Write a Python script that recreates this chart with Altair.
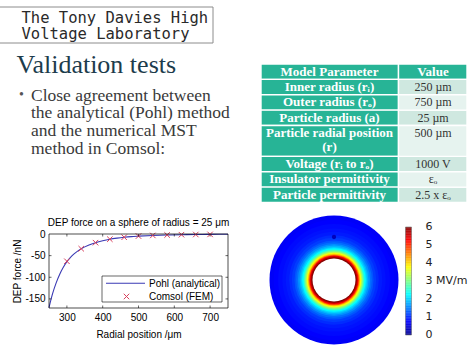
import altair as alt
import pandas as pd

# ---------------- data ----------------
# DEP force curve (Pohl, analytical) and Comsol points
r_pohl = [250, 260, 270, 280, 290, 300, 310, 320, 330, 340, 360, 380, 400, 420, 440,
          460, 480, 500, 540, 580, 620, 660, 700, 750]
f_pohl = [-170, -138, -113, -93, -77, -64, -54, -46, -39.5, -34, -26, -20, -15.5, -12,
          -9.5, -7.5, -6, -5, -3.4, -2.4, -1.7, -1.2, -0.9, -0.6]
r_comsol = [300, 340, 380, 420, 460, 500, 540, 580, 620, 660, 700]
f_comsol = [-63, -34, -20, -12, -7.5, -4.8, -3.3, -2.3, -1.6, -1.2, -0.9]
series_names = ["Pohl (analytical)", "Comsol (FEM)"]
x_ticks = [300, 400, 500, 600, 700]
y_ticks = [-150, -100, -50, 0]
plot_title = "DEP force on a sphere of radius = 25 \u03bcm"
x_title = "Radial position /\u03bcm"
y_title = "DEP force /nN"

# parameter table
table_header = ["Model Parameter", "Value"]
param_names = ["Inner radius (r\u1d62)", "Outer radius (r\u2092)", "Particle radius (a)",
               "Particle radial position\n(r)", "Voltage (r\u1d62 to r\u2092)",
               "Insulator permittivity", "Particle permittivity"]
param_values = ["250 \u00b5m", "750 \u00b5m", "25 \u00b5m", "500 \u00b5m", "1000 V",
                "\u03b5\u2092", "2.5 x \u03b5\u2092"]
row_lines = [1, 1, 1, 2, 1, 1, 1]

# field magnitude map (MV/m) vs radius (um)
ring_r_um = [750, 700, 650, 600, 560, 520, 490, 460, 440, 420, 400, 385, 370, 355,
             345, 335, 325, 315, 305, 295, 285, 275, 265, 255]
ring_field = [0.7, 0.75, 0.8, 0.85, 0.9, 1.0, 1.1, 1.25, 1.4, 1.6, 1.8, 2.0, 2.25, 2.5,
              2.8, 3.1, 3.4, 3.75, 4.1, 4.6, 5.2, 5.6, 5.9, 6.0]
inner_radius_um = 250
outer_radius_um = 750
particle_pos_um = 500
particle_radius_um = 25
particle_field = 0.3
cbar_ticks = [0, 1, 2, 3, 4, 5, 6]
cbar_unit = "MV/m"

header_lines = ["The Tony Davies High", "Voltage Laboratory"]
slide_title = "Validation tests"
bullet_lines = ["Close agreement between", "the analytical (Pohl) method",
                "and the numerical MST", "method in Comsol:"]

# ---------------- styles / layout ----------------
SANS = "Liberation Sans"
SERIF = "Liberation Serif"
TEAL = "#27b496"
BLUE = "#3a3ab4"
RED = "#d8405c"
PX0, PX1, PY0, PY1 = 49, 228, 308, 234  # plot box
CX, CY, RPX = 334, 280, 64.5            # disc
CB_X0, CB_X1, CB_Y0, CB_Y1 = 405.5, 411.5, 335, 227  # colour bar

# ---------------- DEP plot ----------------
xs = alt.Scale(domain=[250, 750], range=[PX0, PX1], nice=False, zero=False)
ys = alt.Scale(domain=[-171, 0], range=[PY0, PY1], nice=False, zero=False)
xaxis = alt.Axis(orient="bottom", offset=PY0 - 355, values=x_ticks, domain=False, ticks=False,
                 grid=False, labelFont=SANS, labelFontSize=10, labelColor="black",
                 labelPadding=4, title=x_title, titleFont=SANS, titleFontSize=10,
                 titleFontWeight="normal", titleColor="black", titlePadding=7, zindex=1)
yaxis = alt.Axis(orient="left", offset=-PX0, values=y_ticks, domain=False, ticks=False,
                 grid=False, labelFont=SANS, labelFontSize=10, labelColor="black",
                 labelPadding=4, labelExpr="'' + datum.value", title=y_title, titleFont=SANS,
                 titleFontSize=10, titleFontWeight="normal", titleColor="black",
                 titlePadding=2, zindex=1)
X = alt.X("r:Q", scale=xs, axis=xaxis)
Y = alt.Y("F:Q", scale=ys, axis=yaxis)

pohl_df = pd.DataFrame({"r": r_pohl, "F": f_pohl})
comsol_df = pd.DataFrame({"r": r_comsol, "F": f_comsol})
line = alt.Chart(pohl_df).mark_line(color=BLUE, strokeWidth=1.1, interpolate="monotone").encode(x=X, y=Y)
XSHAPE = "M-1,-1L1,1M-1,1L1,-1"
pts = alt.Chart(comsol_df).mark_point(shape=XSHAPE, size=30, color=RED, strokeWidth=1,
                                      filled=False, opacity=1).encode(x=X, y=Y)
xt_df = pd.DataFrame({"r": x_ticks})
yt_df = pd.DataFrame({"F": y_ticks[:-1]})
tick_style = dict(color="black", strokeWidth=0.6)
xtb = alt.Chart(xt_df).mark_rule(**tick_style).encode(x=X, y=alt.value(PY0), y2=alt.value(PY0 - 2.5))
xtt = alt.Chart(xt_df).mark_rule(**tick_style).encode(x=X, y=alt.value(PY1), y2=alt.value(PY1 + 2.5))
ytl = alt.Chart(yt_df).mark_rule(**tick_style).encode(y=Y, x=alt.value(PX0), x2=alt.value(PX0 + 2.5))
ytr = alt.Chart(yt_df).mark_rule(**tick_style).encode(y=Y, x=alt.value(PX1), x2=alt.value(PX1 - 2.5))
dep = alt.layer(line, pts, xtb, xtt, ytl, ytr)

# ---------------- table ----------------
units = [1] + row_lines
tops = [sum(units[:i]) for i in range(len(units))]
tab_df = pd.DataFrame({
    "idx": list(range(len(units))),
    "top": tops,
    "bot": [t + u for t, u in zip(tops, units)],
    "first": [t + 0.5 for t in tops],
    "name": [table_header[0]] + param_names,
    "val": [table_header[1]] + param_values,
})
tys = alt.Scale(domain=[0, sum(units)], range=[64, 202.5], nice=False, zero=False)
TY = alt.Y("top:Q", scale=tys, axis=None)
TY2 = alt.Y2("bot:Q")
TYF = alt.Y("first:Q", scale=tys, axis=None)
tbase = alt.Chart(tab_df)
cell = dict(stroke="white", strokeWidth=1.4)
left_cells = tbase.mark_rect(fill=TEAL, **cell).encode(
    x=alt.value(261), x2=alt.value(398.5), y=TY, y2=TY2)
right_hdr = tbase.transform_filter("datum.idx == 0").mark_rect(fill=TEAL, **cell).encode(
    x=alt.value(398.5), x2=alt.value(467), y=TY, y2=TY2)
right_odd = tbase.transform_filter("datum.idx > 0 && datum.idx % 2 == 1").mark_rect(
    fill="#cfe8e0", **cell).encode(x=alt.value(398.5), x2=alt.value(467), y=TY, y2=TY2)
right_even = tbase.transform_filter("datum.idx > 0 && datum.idx % 2 == 0").mark_rect(
    fill="#e6f3ef", **cell).encode(x=alt.value(398.5), x2=alt.value(467), y=TY, y2=TY2)
left_txt = tbase.mark_text(font=SERIF, fontSize=13, fontWeight="bold", color="white",
                           align="center", baseline="middle", lineBreak="\n", lineHeight=13.5).encode(
    x=alt.value(329.5), y=TYF, text="name:N")
right_hdr_txt = tbase.transform_filter("datum.idx == 0").mark_text(
    font=SERIF, fontSize=13, fontWeight="bold", color="white", align="center", baseline="middle").encode(
    x=alt.value(433), y=TYF, text="val:N")
right_txt = tbase.transform_filter("datum.idx > 0").mark_text(
    font=SERIF, fontSize=12, color="#333333", align="center", baseline="middle").encode(
    x=alt.value(433), y=TYF, text="val:N")
table = alt.layer(left_cells, right_hdr, right_odd, right_even, left_txt, right_hdr_txt, right_txt)

# ---------------- field disc + colour bar ----------------
rs = alt.Scale(type="linear", domain=[0, outer_radius_um], range=[0, RPX], zero=True)
cs = alt.Scale(domain=[0, 0.75, 2.25, 3.75, 5.25, 6],
               range=["#00008f", "#0000ff", "#00ffff", "#ffff00", "#ff0000", "#800000"],
               interpolate="rgb")
rings_df = pd.DataFrame({"r": ring_r_um, "E": ring_field}).sort_values("r", ascending=False)
R = alt.Radius("r:Q", scale=rs, stack=None)
rings = alt.Chart(rings_df).mark_arc(theta=0, theta2=6.2832).encode(
    x=alt.value(CX), y=alt.value(CY), radius=R,
    color=alt.Color("E:Q", scale=cs, legend=None))
hole = alt.Chart(pd.DataFrame({"r": [inner_radius_um]})).mark_arc(
    theta=0, theta2=6.2832, fill="white").encode(x=alt.value(CX), y=alt.value(CY), radius=R)
dot = alt.Chart(pd.DataFrame({"r": [particle_radius_um], "E": [particle_field]})).mark_arc(
    theta=0, theta2=6.2832).encode(
    x=alt.value(CX), y=alt.value(CY - particle_pos_um * RPX / outer_radius_um),
    radius=R, color=alt.Color("E:Q", scale=cs, legend=None))

cby = alt.Scale(domain=[min(cbar_ticks), max(cbar_ticks)], range=[CB_Y0, CB_Y1], nice=False, zero=False)
step = 0.04
cbar = alt.Chart(alt.sequence(min(cbar_ticks), max(cbar_ticks), step, as_="v")).transform_calculate(
    v2=f"min(datum.v + {step * 1.3}, {max(cbar_ticks)})"
).mark_rect().encode(
    x=alt.value(CB_X0), x2=alt.value(CB_X1),
    y=alt.Y("v:Q", scale=cby, axis=None), y2="v2:Q",
    color=alt.Color("v:Q", scale=cs, legend=None))
cbar_df = pd.DataFrame({"lo": [min(cbar_ticks)], "hi": [max(cbar_ticks)]})
cbar_border = alt.Chart(cbar_df).mark_rect(fillOpacity=0, stroke="#777777", strokeWidth=0.6).encode(
    x=alt.value(CB_X0), x2=alt.value(CB_X1),
    y=alt.Y("lo:Q", scale=cby, axis=None), y2="hi:Q")
cbar_lbl = alt.Chart(pd.DataFrame({"v": cbar_ticks})).transform_calculate(
    lbl=f"datum.v == 3 ? '3 {cbar_unit}' : '' + datum.v"
).mark_text(font="DejaVu Sans", fontSize=11, color="#222222", align="left", baseline="middle").encode(
    x=alt.value(425.5), y=alt.Y("v:Q", scale=cby, axis=None), text="lbl:N")
disc = alt.layer(rings, hole, dot, cbar, cbar_border, cbar_lbl)

# ---------------- decorations ----------------
one = pd.DataFrame({"a": [0]})


def txt(s, x, y, **kw):
    return alt.Chart(one).mark_text(text=s, **kw).encode(x=alt.value(x), y=alt.value(y))


deco = [
    alt.Chart(one).mark_rect(fillOpacity=0, stroke="#8c8c8c", strokeWidth=1).encode(
        x=alt.value(-2), x2=alt.value(213), y=alt.value(7), y2=alt.value(43)),
    txt(header_lines[0], 21.5, 17.5, font="DejaVu Sans Mono", fontSize=15.5, color="#2a2a2a",
        align="left", baseline="middle"),
    txt(header_lines[1], 21.5, 34, font="DejaVu Sans Mono", fontSize=15.5, color="#2a2a2a",
        align="left", baseline="middle"),
    txt(slide_title, 16.5, 72.5, font=SERIF, fontSize=26, color="#1c3c4c", align="left",
        baseline="alphabetic"),
    txt("\u2022", 21.5, 95, font=SERIF, fontSize=14, color="#555555", align="center", baseline="middle"),
]
for i, s in enumerate(bullet_lines):
    deco.append(txt(s, 31, 100.5 + i * 17.7, font=SERIF, fontSize=17.5, color="#3a3a3a",
                    align="left", baseline="alphabetic"))

frame = alt.Chart(one).mark_rect(fillOpacity=0, stroke="black", strokeWidth=0.7).encode(
    x=alt.value(PX0), x2=alt.value(PX1), y=alt.value(PY1), y2=alt.value(PY0))
legbox = alt.Chart(one).mark_rect(fill="white", stroke="black", strokeWidth=0.6).encode(
    x=alt.value(102), x2=alt.value(222), y=alt.value(276), y2=alt.value(302))
legline = alt.Chart(one).mark_rule(color=BLUE, strokeWidth=1.1).encode(
    x=alt.value(106), x2=alt.value(145), y=alt.value(283.3))
legpt = alt.Chart(one).mark_point(shape=XSHAPE, size=30, color=RED, strokeWidth=1, filled=False,
                                  opacity=1).encode(x=alt.value(126.5), y=alt.value(296.5))
dep_deco = [
    frame, legbox, legline, legpt,
    txt(series_names[0], 149, 283.5, font=SANS, fontSize=10, color="black", align="left", baseline="middle"),
    txt(series_names[1], 149, 296.5, font=SANS, fontSize=10, color="black", align="left", baseline="middle"),
    txt(plot_title, 138.5, 223, font=SANS, fontSize=10, color="black", align="center", baseline="middle"),
]

chart = alt.layer(disc, table, dep, *deco, *dep_deco).resolve_scale(
    x="independent", y="independent"
).properties(
    width=474, height=355, autosize=alt.AutoSizeParams(type="none"), padding=0,
    background="white"
).configure_view(stroke=None)

chart.save("out.html", embed_options={"renderer": "svg", "actions": False})
